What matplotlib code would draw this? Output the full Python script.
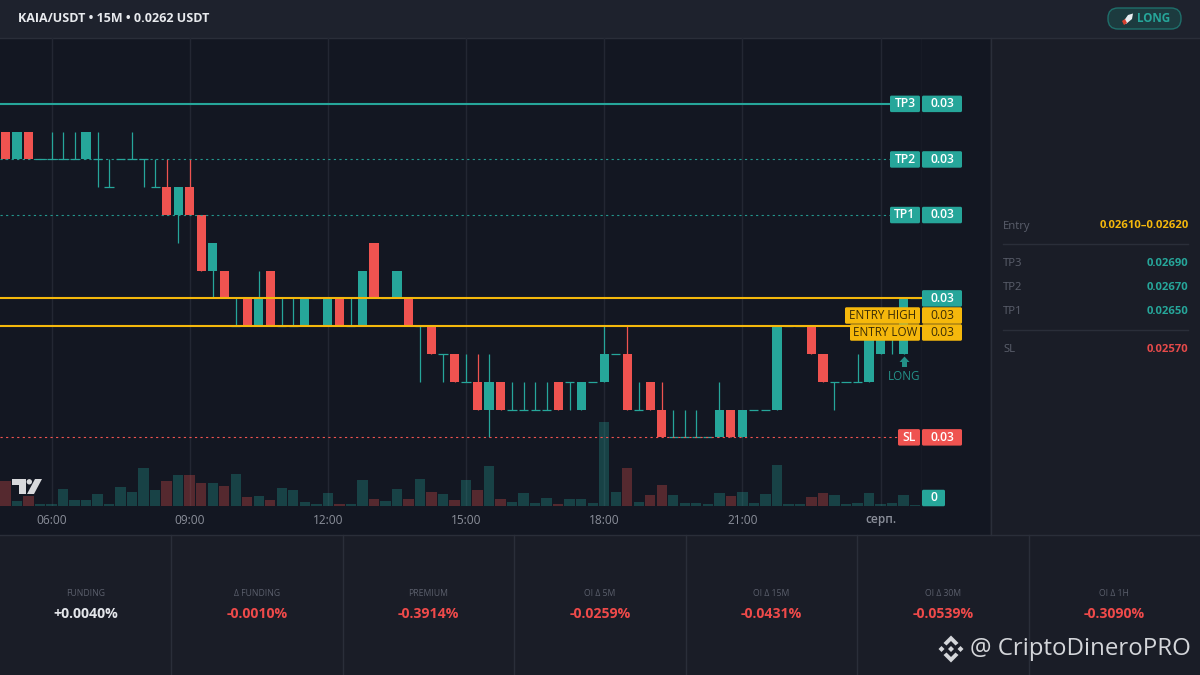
#!/usr/bin/python3
# -*- coding: utf-8 -*-

import matplotlib
matplotlib.use('Agg')
import matplotlib.pyplot as plt
from matplotlib.patches import Rectangle, Polygon, FancyBboxPatch

plt.rcParams['font.family'] = ['Open Sans', 'DejaVu Sans']

# candles, in units of 0.0001 USDT
opens = [268, 267, 268, 267, 267, 267, 267, 267, 267, 266, 267, 267, 267, 266, 266, 265, 266, 265, 263, 263,
         261, 262, 261, 263, 261, 261, 261, 262, 261, 262, 261, 261, 264, 262, 262, 262, 261, 261, 260, 260,
         259, 259, 258, 259, 258, 258, 258, 258, 259, 259, 258, 259, 259, 260, 260, 258, 259, 258, 257, 257,
         257, 257, 257, 258, 257, 258, 258, 258, 261, 261, 261, 260, 259, 259, 259, 259, 260, 261, 260, 262]
highs = [268, 268, 268, 267, 268, 268, 268, 268, 268, 267, 267, 268, 267, 267, 267, 266, 267, 265, 264, 263,
         262, 262, 263, 263, 262, 262, 262, 262, 262, 262, 262, 263, 264, 262, 263, 262, 261, 261, 260, 260,
         260, 260, 260, 259, 259, 259, 259, 259, 259, 259, 259, 259, 261, 260, 261, 259, 259, 259, 258, 258,
         258, 257, 259, 258, 258, 258, 258, 261, 261, 261, 261, 260, 259, 259, 260, 261, 261, 261, 262, 262]
lows = [267, 267, 267, 267, 267, 267, 267, 267, 266, 266, 267, 267, 266, 266, 265, 264, 265, 263, 262, 262,
        261, 261, 261, 261, 261, 261, 261, 262, 261, 261, 261, 261, 262, 262, 262, 261, 259, 260, 259, 259,
        259, 258, 257, 258, 258, 258, 258, 258, 258, 258, 258, 259, 259, 260, 258, 258, 258, 257, 257, 257,
        257, 257, 257, 257, 257, 258, 258, 258, 261, 261, 260, 259, 258, 259, 259, 259, 260, 260, 260, 262]
closes = [267, 268, 267, 267, 267, 267, 267, 268, 267, 266, 267, 267, 267, 266, 265, 266, 265, 263, 264, 262,
          261, 261, 262, 261, 261, 261, 262, 262, 262, 261, 261, 263, 262, 262, 263, 261, 261, 260, 260, 259,
          259, 258, 259, 258, 258, 258, 258, 258, 258, 259, 259, 259, 260, 260, 258, 258, 258, 257, 257, 257,
          257, 257, 258, 257, 258, 258, 258, 261, 261, 261, 260, 259, 259, 259, 259, 261, 261, 261, 262, 262]
volumes = [25, 5, 10, 2, 2, 17, 6, 6, 12, 2, 19, 14, 38, 16, 25, 31, 31, 23, 23, 20,
           32, 9, 10, 6, 18, 16, 4, 2, 13, 2, 2, 26, 7, 5, 17, 7, 27, 14, 12, 6,
           26, 16, 40, 7, 4, 13, 3, 8, 2, 7, 7, 3, 84, 14, 38, 4, 11, 21, 11, 3,
           3, 2, 13, 10, 14, 3, 12, 41, 2, 2, 9, 13, 11, 2, 3, 13, 2, 3, 11, 1]

time_ticks = [4, 16, 28, 40, 52, 64, 76]
time_labels = ['06:00', '09:00', '12:00', '15:00', '18:00', '21:00', 'серп.']

tp_levels = [('TP3', 269), ('TP2', 267), ('TP1', 265)]
entry_high = 262
entry_low = 261
sl_level = 257

side_names = ['Entry', 'TP3', 'TP2', 'TP1', 'SL']
side_values = ['0.02610–0.02620', '0.02690', '0.02670', '0.02650', '0.02570']
stat_names = ['FUNDING', 'Δ FUNDING', 'PREMIUM', 'OI Δ 5M', 'OI Δ 15M', 'OI Δ 30M', 'OI Δ 1H']
stat_values = ['+0.0040%', '-0.0010%', '-0.3914%', '-0.0259%', '-0.0431%', '-0.0539%', '-0.3090%']

TEAL = '#26a69a'
RED = '#ef5350'
YELLOW = '#f5b80c'
CHART_BG = '#131722'
PANEL_BG = '#1a1d27'
HEAD_BG = '#1e222d'
BORDER = '#2a2e39'
GRID = '#232733'
W, H = 1200, 675
X_LEFT, X_RIGHT = -0.473, 79.6


def scale(v):
    return v / 10000.0


def px_box(x0, y0, x1, y1):
    return [x0 / W, 1 - y1 / H, (x1 - x0) / W, (y1 - y0) / H]


fig = plt.figure(figsize=(12, 6.75), dpi=100, facecolor=CHART_BG)

# background panels, in pixels
bg = fig.add_axes([0, 0, 1, 1], zorder=0)
bg.set_xlim(0, W)
bg.set_ylim(H, 0)
bg.axis('off')
bg.add_patch(Rectangle((0, 0), W, 38, color=HEAD_BG, lw=0))
bg.add_patch(Rectangle((990, 38), 210, 497, color=PANEL_BG, lw=0))
bg.add_patch(Rectangle((0, 535), W, 140, color=PANEL_BG, lw=0))
bg.plot([0, W], [38, 38], color=BORDER, lw=1)
bg.plot([0, W], [535, 535], color=BORDER, lw=1)
bg.plot([990.5, 990.5], [38, 535], color=BORDER, lw=1)

# volume goes under the candles, its scale is only relative
vol = fig.add_axes(px_box(0, 38, 922, 506), zorder=1)
vol.patch.set_alpha(0)
vol.set_xlim(X_LEFT, X_RIGHT)
vol.set_ylim(0, 468)
vol.axis('off')
for t in time_ticks:
    vol.axvline(t, color=GRID, lw=1, zorder=0)
vol.axvline(X_RIGHT - 0.04, color=BORDER, lw=1, zorder=0)
vol.bar(range(len(volumes)), volumes, width=0.9, lw=0, zorder=1, alpha=0.3,
        color=[RED if c < o else TEAL for o, c in zip(opens, closes)])
vol.plot([X_LEFT, X_RIGHT], [0.5, 0.5], color=TEAL, lw=0.7, alpha=0.35, ls=(0, (2, 3)), zorder=2)

ax = fig.add_axes(px_box(0, 38, 922, 506), zorder=2)
ax.patch.set_alpha(0)
ax.set_xlim(X_LEFT, X_RIGHT)
ax.set_ylim(scale(254.53), scale(271.37))
ax.axis('off')

for i in range(len(opens)):
    o, h, l, c = scale(opens[i]), scale(highs[i]), scale(lows[i]), scale(closes[i])
    col = RED if c < o else TEAL
    if h > l:
        ax.vlines(i, l, h, color=col, lw=0.9, zorder=2)
    if o == c:
        ax.hlines(o, i - 0.4, i + 0.4, color=col, lw=0.9, zorder=2)
    else:
        ax.bar(i, abs(c - o), bottom=min(o, c), width=0.8, color=col, lw=0, zorder=3)

# levels
for name, level in tp_levels:
    if name == 'TP3':
        ax.plot([X_LEFT, 77], [scale(level)] * 2, color=TEAL, lw=1.5, zorder=4)
    else:
        ax.plot([X_LEFT, 77], [scale(level)] * 2, color=TEAL, lw=0.8, ls=(0, (2, 3)), alpha=0.9, zorder=4)
ax.plot([X_LEFT, 78], [scale(sl_level)] * 2, color=RED, lw=0.8, ls=(0, (2, 3)), zorder=4)
ax.plot([X_LEFT, X_RIGHT], [scale(entry_high)] * 2, color=YELLOW, lw=1.5, zorder=4)
ax.plot([X_LEFT, X_RIGHT], [scale(entry_low)] * 2, color=YELLOW, lw=1.5, zorder=4)

# overlay for everything that is placed by pixel
ui = fig.add_axes([0, 0, 1, 1], zorder=3)
ui.patch.set_alpha(0)
ui.set_xlim(0, W)
ui.set_ylim(H, 0)
ui.axis('off')


def py(level):
    return H - ax.transData.transform((0, scale(level)))[1]


def tag(x0, x1, yc, text, bg_col, fg='white', h=16.5, size=8.7, weight='semibold'):
    ui.add_patch(FancyBboxPatch((x0 + 1, yc - h / 2 + 1), x1 - x0 - 2, h - 2,
                                boxstyle='round,pad=1,rounding_size=1.5', fc=bg_col, ec='none', zorder=5))
    ui.text((x0 + x1) / 2, yc - 0.3, text, color=fg, fontsize=size, weight=weight,
            ha='center', va='center', zorder=6)


for name, level in tp_levels:
    tag(890, 920, py(level), name, TEAL)
    tag(922, 962, py(level), '0.03', TEAL)
tag(922, 962, py(entry_high), '0.03', TEAL)
tag(845, 920, 315.5, 'ENTRY HIGH', YELLOW, fg='#3a2c06', size=8.4, weight='normal')
tag(922, 962, 315.5, '0.03', YELLOW, fg='#3a2c06', weight='normal')
tag(850, 920, 332.5, 'ENTRY LOW', YELLOW, fg='#3a2c06', size=8.4, weight='normal')
tag(922, 962, 332.5, '0.03', YELLOW, fg='#3a2c06', weight='normal')
tag(898, 920, py(sl_level), 'SL', RED)
tag(922, 962, py(sl_level), '0.03', RED)
tag(922, 945, 498, '0', TEAL)

# entry arrow
ui.add_patch(Polygon([(904.5, 356.5), (909.5, 362), (907, 362), (907, 367), (902, 367), (902, 362), (899.5, 362)],
                     fc=TEAL, ec='none', alpha=0.85, zorder=6))
ui.text(904, 376, 'LONG', color=TEAL, alpha=0.85, fontsize=8.4, ha='center', va='center', zorder=6)

for t, lab in zip(time_ticks, time_labels):
    x = 51.5 + (t - 4) * 11.514
    ui.text(x, 520, lab, color='#8b8f9a', fontsize=8.6, ha='center', va='center',
            weight='semibold' if lab == 'серп.' else 'normal')

# tradingview mark
ui.add_patch(Polygon([(12, 479), (26, 479), (26, 494), (19, 494), (19, 485), (12, 485)], fc='#d8d9dc', ec='none', zorder=6))
ui.add_patch(Polygon([(35, 479), (42, 479), (34, 494), (27, 494)], fc='#d8d9dc', ec='none', zorder=6))
ui.add_patch(plt.Circle((29.3, 481.8), 2.7, fc='#d8d9dc', ec='none', zorder=6))

# header
ui.text(18, 19, 'KAIA/USDT • 15M • 0.0262 USDT', color='#e8eaee', fontsize=9, weight='bold', ha='left', va='center')
ui.add_patch(FancyBboxPatch((1108, 8), 73, 21, boxstyle='round,pad=0,rounding_size=10', fc='#1c3b3f', ec='#1f6f6b', lw=1, zorder=3))
ui.add_patch(Polygon([(1123, 22), (1128, 15), (1133, 13.5), (1132, 19), (1126, 24)], fc='#e9edf0', ec='none', zorder=6))
ui.add_patch(Polygon([(1122, 21), (1125, 19), (1127, 23), (1124, 25)], fc='#d8402f', ec='none', zorder=6))
ui.text(1153.5, 19, 'LONG', color=TEAL, fontsize=8.4, weight='bold', ha='center', va='center', zorder=6)

# side panel
side_y = [226, 264, 288, 312, 350]
side_col = [YELLOW, TEAL, TEAL, TEAL, '#e64a4a']
for n, v, y, c in zip(side_names, side_values, side_y, side_col):
    ui.text(1003, y, n, color='#5b5f6c', fontsize=8.1, ha='left', va='center')
    ui.text(1188.5, y, v, color=c, fontsize=8.1, weight='bold', ha='right', va='center')
ui.plot([1003, 1188], [243.5, 243.5], color=BORDER, lw=1)
ui.plot([1003, 1188], [329.5, 329.5], color=BORDER, lw=1)

# bottom stats
cell_w = 1200 / 7.0
for k in range(7):
    cx = cell_w * (k + 0.5)
    col = '#e4e6ea' if k == 0 else '#ef4a4a'
    ui.text(cx, 594, stat_names[k], color='#5b5f6c', fontsize=6.2, ha='center', va='center')
    ui.text(cx, 614.5, stat_values[k], color=col, fontsize=10.2, weight='bold', ha='center', va='center')
    if k > 0:
        ui.plot([cell_w * k] * 2, [535, 675], color=BORDER, lw=1)

# watermark
ui.text(970, 649, '@ CriptoDineroPRO', color='#d4d6da', fontsize=17.3, ha='left', va='center', zorder=8)
LOGO = '#d4d6da'
for cx, r in [(941.5, 3), (951, 3), (960.5, 3)]:
    ui.add_patch(Polygon([(cx, 649 - r), (cx + r, 649), (cx, 649 + r), (cx - r, 649)], fc=LOGO, ec='none', zorder=8))
for sign in (-1, 1):
    ui.add_patch(Polygon([(951, 649 + sign * 13.5), (958.5, 649 + sign * 6), (955.5, 649 + sign * 3.5),
                          (951, 649 + sign * 8), (946.5, 649 + sign * 3.5), (943.5, 649 + sign * 6)],
                         fc=LOGO, ec='none', zorder=8))

fig.savefig('out.png', dpi=100, facecolor=fig.get_facecolor())
